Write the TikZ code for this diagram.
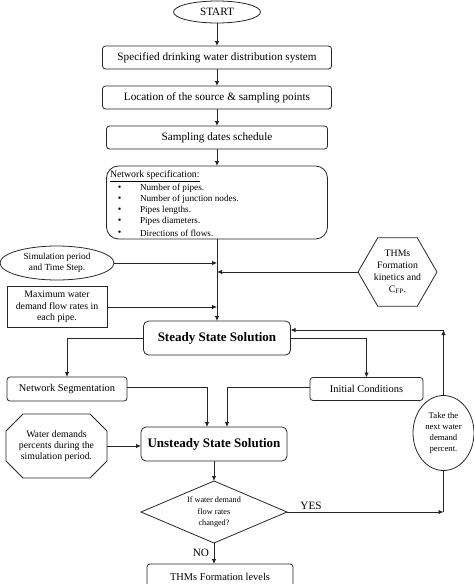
\documentclass[tikz,border=0pt]{standalone}
\usepackage{fontspec}
\setmainfont{Liberation Serif}
\usetikzlibrary{shapes.geometric,arrows.meta,calc}
\begin{document}
\begin{tikzpicture}[x=1pt,y=-1pt,line width=0.8pt,draw=black!85,
  every node/.style={inner sep=0pt,outer sep=0pt,text=black},
  bx/.style={draw,rounded corners=3pt,minimum height=23pt},
  arr/.style={-{Latex[length=5pt,width=4.5pt]}},
  tten/.style={font=\fontsize{11.2}{13}\selectfont},
  tnin/.style={font=\fontsize{9.8}{11.5}\selectfont,align=center},
  tnh/.style={font=\fontsize{10.4}{12}\selectfont},
  tei/.style={font=\fontsize{9.3}{11}\selectfont,align=center},
  tsm/.style={font=\fontsize{8.2}{11.5}\selectfont,align=center},
  bld/.style={font=\bfseries\fontsize{13}{15}\selectfont}]
\useasboundingbox (0,0) rectangle (474,584);
\clip (0,0) rectangle (474,584);
% top chain
\node[draw,ellipse,minimum width=87pt,minimum height=22pt,tten] (start) at (217,12) {START};
\node[bx,minimum width=229pt,tten] (b1) at (217,57.5) {Specified drinking water distribution system};
\node[bx,minimum width=229pt,tten] (b2) at (217,97.5) {Location of the source \& sampling points};
\node[bx,minimum width=221pt,tten] (b3) at (217,137.5) {Sampling dates schedule};
\node[draw,rounded corners=12pt,minimum width=221pt,minimum height=73pt] (b4) at (217,202.5) {};
\node[font=\fontsize{9.8}{11}\selectfont,anchor=west] (nsh) at (110,176) {\underline{Network specification:}};
\foreach \t [count=\i] in {Number of pipes.,Number of junction nodes.,Pipes lengths.,Pipes diameters.,Directions of flows.}{
  \node[font=\fontsize{9.2}{10}\selectfont,anchor=west] (it\i) at (140,176.5+11.3*\i) {\t};
  \node[font=\fontsize{10}{10}\selectfont] (bu\i) at (119.5,176.5+11.3*\i) {\textbullet};
}
\draw[arr] (start.south) -- (start.south |- b1.north);
\draw[arr] (b1.south) -- (b2.north);
\draw[arr] (b2.south) -- (b3.north);
\draw[arr] (b3.south) -- (b4.north);
% steady
\node[bx,rounded corners=5pt,minimum width=147pt,minimum height=34pt,bld] (steady) at (217,338) {Steady State Solution};
\draw[arr] (b4.south) -- (steady.north);
\node[draw,ellipse,minimum width=114pt,minimum height=34pt,tei] (sim) at (57,263) {Simulation period\\and Time Step.};
\draw[arr] (sim.east) -- (sim.east -| b4.south);
\node[draw,regular polygon,regular polygon sides=6,minimum size=79pt] (hex) at (397.5,272) {};
\node[align=center,font=\fontsize{9.8}{12}\selectfont] (hext) at (hex.center) {THMs\\Formation\\kinetics and\\C\textsubscript{FP}.};
\draw[arr] (hex.west) -- (hex.west -| b4.south);
\node[draw,minimum width=100pt,minimum height=41pt,tnin] (max) at (57,307) {Maximum water\\demand flow rates in\\each pipe.};
\draw[arr] (max.east) -- (max.east -| b4.south);
% segmentation and initial
\node[bx,minimum width=120pt,minimum height=24pt,tnh] (netseg) at (67,389) {Network Segmentation};
\node[bx,minimum width=113pt,minimum height=23pt,tnh] (init) at (366.5,389) {Initial Conditions};
\draw[arr] (steady.west) -| (netseg.north);
\draw[arr] (steady.east) -| (init.north);
% unsteady
\node[bx,rounded corners=5pt,minimum width=146pt,minimum height=34pt,bld] (unst) at (214,444) {Unsteady State Solution};
\draw[arr] ($(netseg.east)+(0,-2)$) -| ($(unst.north)+(-7,0)$);
\draw[arr] ($(init.west)+(0,-2)$) -| ($(unst.north)+(13,0)$);
\node[minimum width=101pt,minimum height=64pt,align=center,font=\fontsize{9.8}{11}\selectfont] (oct) at (56.5,446) {Water demands\\percents during the\\simulation period.};
\draw ($(oct.north west)+(17,0)$) -- ($(oct.north east)+(-17,0)$) -- ($(oct.north east)+(0,17)$) -- ($(oct.south east)+(0,-17)$) -- ($(oct.south east)+(-17,0)$) -- ($(oct.south west)+(17,0)$) -- ($(oct.south west)+(0,-17)$) -- ($(oct.north west)+(0,17)$) -- cycle;
\draw[arr] (oct.east) -- (oct.east -| unst.west);
% decision
\node[draw,diamond,minimum width=146pt,minimum height=62pt] (dia) at (214,512) {};
\node[tsm] (diat) at (dia.center) {If water demand\\flow rates\\changed?};
\draw[arr] (unst.south) -- (dia.north);
\node[draw,ellipse,minimum width=61pt,minimum height=75pt,font=\fontsize{8.7}{11}\selectfont,align=center] (take) at (443.5,433) {Take the\\next water\\demand\\percent.};
\coordinate (yc) at (take.south |- dia.east);
\draw[arr] (dia.east) -- (yc);
\draw (take.south) -- (yc);
\coordinate (tc) at (443.5,330);
\draw[arr] (take.north) -- (tc);
\draw[arr] (tc) -- (tc -| steady.east);
\node[tten] (yes) at (311,506) {YES};
\node[tten] (no) at (201,553) {NO};
\node[bx,minimum width=146pt,minimum height=25pt,tnh] (thm2) at (220,576.5) {THMs Formation levels};
\draw[arr] (dia.south) -- (dia.south |- thm2.north);
\end{tikzpicture}
\end{document}
